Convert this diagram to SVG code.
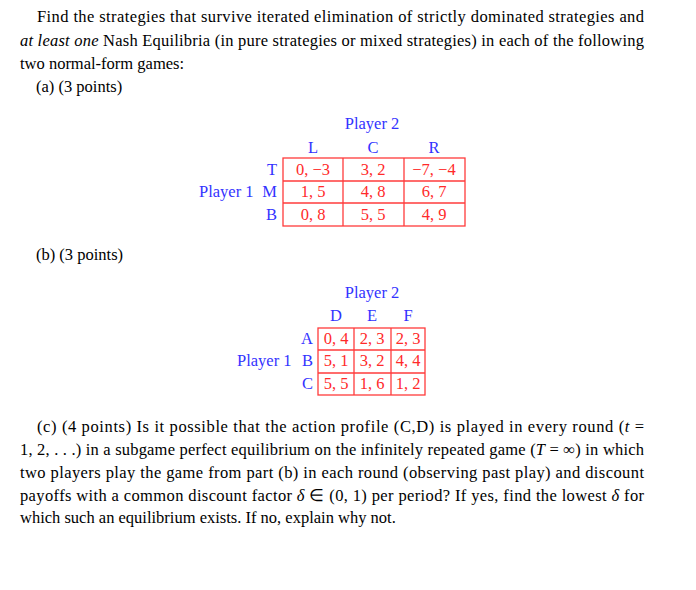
<svg xmlns="http://www.w3.org/2000/svg" width="696" height="590" viewBox="0 0 696 590">
<style>
text{font-family:"Liberation Serif","Times New Roman",serif;font-size:16.5px;fill:#000}
.b{fill:#3333ff}
.r{fill:#ff2a2a;text-anchor:middle}
.c{text-anchor:middle}
.e{text-anchor:end}
.g line,.g rect{stroke:#ff3b3b;stroke-width:1.3;fill:none}
</style>
<rect width="696" height="590" fill="#fff"/>
<g id="intro">
<text x="37" y="22" textLength="607" lengthAdjust="spacing">Find the strategies that survive iterated elimination of strictly dominated strategies and</text>
<text x="20" y="46" textLength="624" lengthAdjust="spacing"><tspan font-style="italic">at least one</tspan> Nash Equilibria (in pure strategies or mixed strategies) in each of the following</text>
<text x="20" y="69">two normal-form games:</text>
<text x="36" y="92">(a) (3 points)</text>
<text x="36" y="260">(b) (3 points)</text>
</g>
<g id="gameA">
<text class="b c" x="372" y="129">Player 2</text>
<text class="b c" x="313" y="153">L</text><text class="b c" x="373" y="153">C</text><text class="b c" x="434" y="153">R</text>
<text class="b" x="199" y="197">Player 1</text>
<text class="b e" x="277" y="175">T</text><text class="b e" x="277" y="197">M</text><text class="b e" x="277" y="220">B</text>
<g class="g"><rect x="283" y="158" width="182" height="68"/><line x1="343" y1="158" x2="343" y2="226"/><line x1="404" y1="158" x2="404" y2="226"/><line x1="283" y1="181" x2="465" y2="181"/><line x1="283" y1="203" x2="465" y2="203"/></g>
<text class="r" x="313" y="175">0, −3</text><text class="r" x="373" y="175">3, 2</text><text class="r" x="434" y="175">−7, −4</text>
<text class="r" x="313" y="197">1, 5</text><text class="r" x="373" y="197">4, 8</text><text class="r" x="434" y="197">6, 7</text>
<text class="r" x="313" y="220">0, 8</text><text class="r" x="373" y="220">5, 5</text><text class="r" x="434" y="220">4, 9</text>
</g>
<g id="gameB">
<text class="b c" x="372" y="298">Player 2</text>
<text class="b c" x="336" y="321">D</text><text class="b c" x="372" y="321">E</text><text class="b c" x="408" y="321">F</text>
<text class="b" x="237" y="366">Player 1</text>
<text class="b e" x="313" y="344">A</text><text class="b e" x="313" y="366">B</text><text class="b e" x="313" y="389">C</text>
<g class="g"><rect x="318" y="328" width="107" height="67"/><line x1="354" y1="328" x2="354" y2="395"/><line x1="391" y1="328" x2="391" y2="395"/><line x1="318" y1="350" x2="425" y2="350"/><line x1="318" y1="373" x2="425" y2="373"/></g>
<text class="r" x="336" y="344">0, 4</text><text class="r" x="372" y="344">2, 3</text><text class="r" x="408" y="344">2, 3</text>
<text class="r" x="336" y="366">5, 1</text><text class="r" x="372" y="366">3, 2</text><text class="r" x="408" y="366">4, 4</text>
<text class="r" x="336" y="389">5, 5</text><text class="r" x="372" y="389">1, 6</text><text class="r" x="408" y="389">1, 2</text>
</g>
<g id="partC">
<text x="37" y="432" textLength="607" lengthAdjust="spacing">(c) (4 points) Is it possible that the action profile (C,D) is played in every round (<tspan font-style="italic">t</tspan> =</text>
<text x="20" y="455" textLength="624" lengthAdjust="spacing">1, 2, . . .) in a subgame perfect equilibrium on the infinitely repeated game (<tspan font-style="italic">T</tspan> = ∞) in which</text>
<text x="20" y="478" textLength="624" lengthAdjust="spacing">two players play the game from part (b) in each round (observing past play) and discount</text>
<text x="20" y="501" textLength="624" lengthAdjust="spacing">payoffs with a common discount factor <tspan font-style="italic">δ</tspan> ∈ (0, 1) per period? If yes, find the lowest <tspan font-style="italic">δ</tspan> for</text>
<text x="20" y="523">which such an equilibrium exists. If no, explain why not.</text>
</g>
</svg>
